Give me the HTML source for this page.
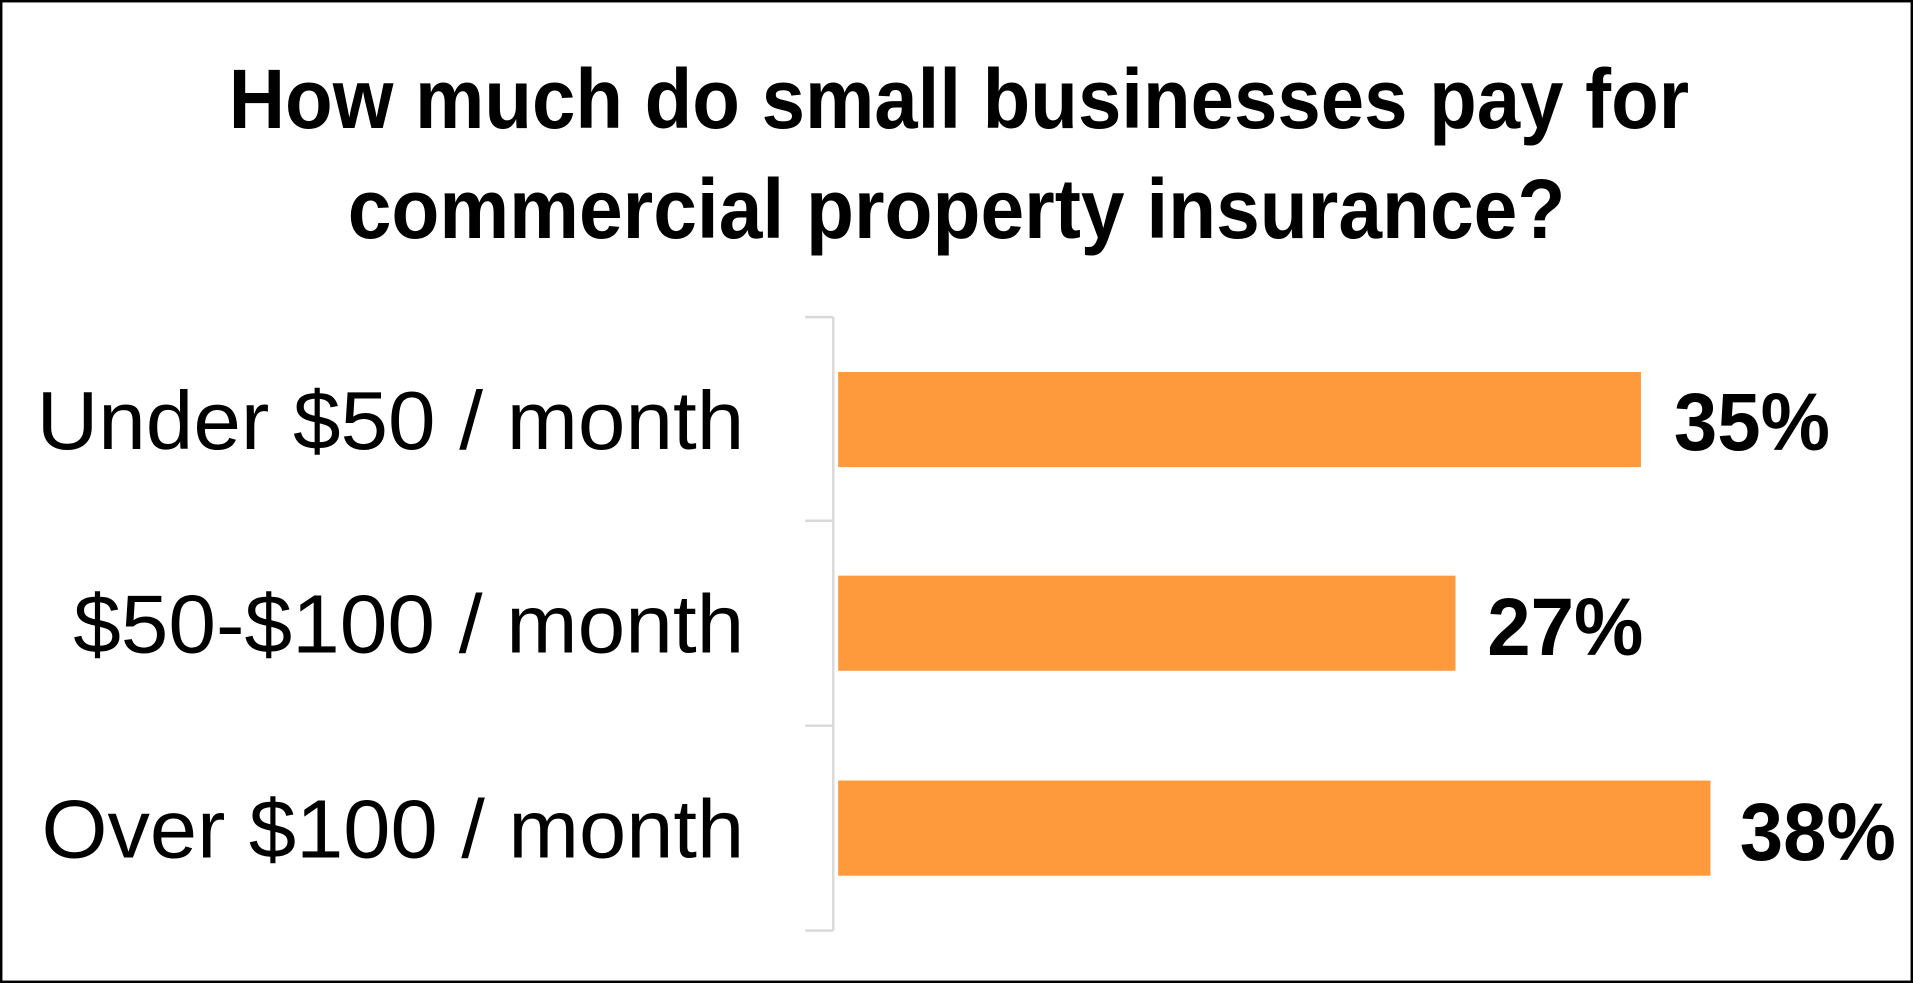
<!DOCTYPE html>
<html><head><meta charset="utf-8"><style>
html,body{margin:0;padding:0;background:#fff;}
svg{display:block;}
</style></head><body>
<svg width="1913" height="983" viewBox="0 0 1568 806" preserveAspectRatio="none" xmlns="http://www.w3.org/2000/svg">
<rect x="1" y="1" width="1566" height="804" fill="#fff" stroke="#000" stroke-width="2"/>
<g font-family="'Liberation Sans', sans-serif" font-weight="bold" fill="#000" font-size="69" text-anchor="middle">
<text x="786" y="105" textLength="1197" lengthAdjust="spacingAndGlyphs">How much do small businesses pay for</text>
<text x="784" y="195" textLength="998" lengthAdjust="spacingAndGlyphs">commercial property insurance?</text>
</g>
<g stroke="#d9d9d9" stroke-width="2">
<line x1="683" y1="260" x2="683" y2="763"/>
<line x1="660" y1="260" x2="683" y2="260"/>
<line x1="660" y1="427" x2="683" y2="427"/>
<line x1="660" y1="595" x2="683" y2="595"/>
<line x1="660" y1="763" x2="683" y2="763"/>
</g>
<g fill="#FF9A3C">
<rect x="687" y="305" width="658" height="78"/>
<rect x="687" y="472" width="506" height="78"/>
<rect x="687" y="640" width="715" height="78"/>
</g>
<g font-family="'Liberation Sans', sans-serif" fill="#000" font-size="68" text-anchor="end">
<text x="610" y="368" textLength="580" lengthAdjust="spacingAndGlyphs">Under $50 / month</text>
<text x="610" y="535" textLength="550" lengthAdjust="spacingAndGlyphs">$50-$100 / month</text>
<text x="610" y="703" textLength="576" lengthAdjust="spacingAndGlyphs">Over $100 / month</text>
</g>
<g font-family="'Liberation Sans', sans-serif" font-weight="bold" fill="#000" font-size="67">
<text x="1372" y="369" textLength="128" lengthAdjust="spacingAndGlyphs">35%</text>
<text x="1219" y="537" textLength="128" lengthAdjust="spacingAndGlyphs">27%</text>
<text x="1426" y="705" textLength="128" lengthAdjust="spacingAndGlyphs">38%</text>
</g>
</svg>
</body></html>
